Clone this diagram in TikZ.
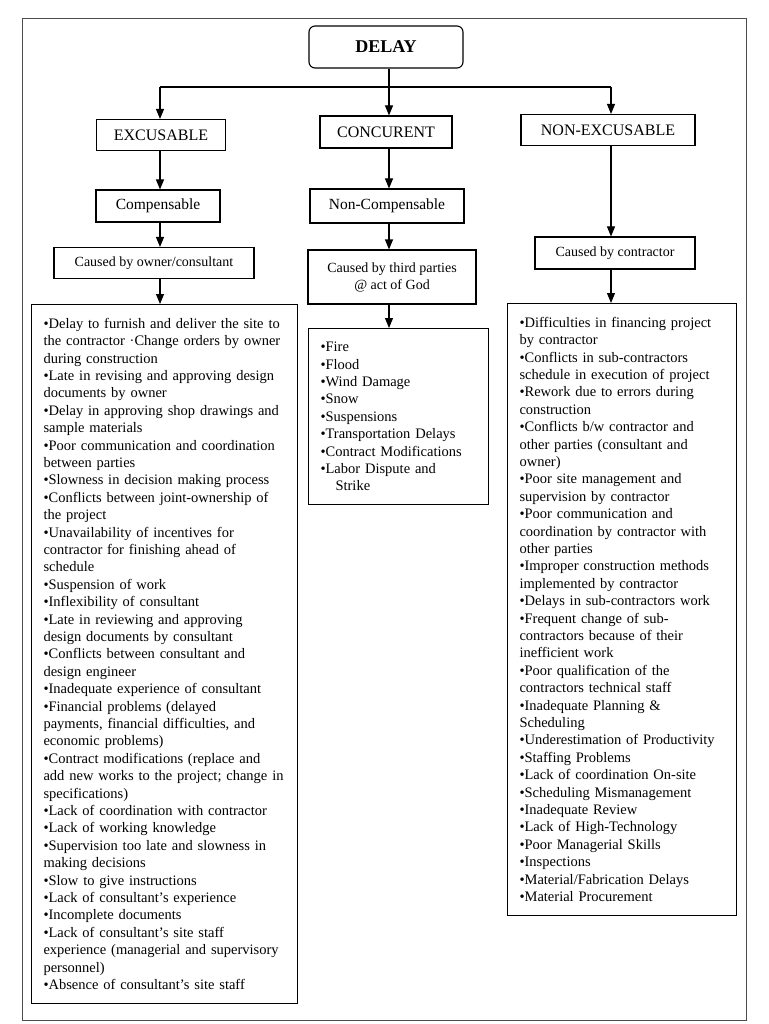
\documentclass[tikz,border=0pt]{standalone}
\usepackage{fontspec}
\setmainfont{Liberation Serif}
\usetikzlibrary{arrows.meta,positioning}

\begin{document}
\begin{tikzpicture}[x=1pt,y=-1pt,
	box/.style={draw,line width=1.1pt,inner sep=0pt,align=center},
	head/.style={box,font=\fontsize{16}{19}\selectfont},
	sub/.style={box,font=\fontsize{15.5}{18}\selectfont},
	cause/.style={box,font=\fontsize{14}{17}\selectfont},
	list/.style={draw,line width=1.1pt,anchor=north west,align=left,inner xsep=12pt,inner ysep=13.5pt,font=\fontsize{14.5}{17.4}\selectfont},
	arr/.style={line width=1.1pt,-{Triangle[width=8pt,length=10pt]}}]
	\useasboundingbox (0,0) rectangle (768,1024);
	\draw[line width=0.8pt,black!70] (22,18) rectangle (746,1020);
	% top and the three kinds
	\node[box,rounded corners=6pt,minimum width=154pt,minimum height=42pt,font=\bfseries\fontsize{18}{21}\selectfont] (delay) at (386,47) {DELAY};
	\node[head,minimum width=129pt,minimum height=31pt] (exc) at (161,135) {EXCUSABLE};
	\node[head,minimum width=132pt,minimum height=32pt] (conc) at (386,132) {CONCURENT};
	\node[head,minimum width=174pt,minimum height=31pt] (nonexc) at (608,130) {NON-EXCUSABLE};
	\node[sub,minimum width=124pt,minimum height=32pt] (comp) at (158,206) {Compensable};
	\node[sub,minimum width=154pt,minimum height=34pt] (noncomp) at (387,206) {Non-Compensable};
	\node[cause,minimum width=200pt,minimum height=31pt] (owner) at (154,263) {Caused by owner/consultant};
	\node[cause,minimum width=168pt,minimum height=54pt] (third) at (392,277) {Caused by third parties\\@ act of God};
	\node[cause,minimum width=160pt,minimum height=32pt] (contr) at (615,253) {Caused by contractor};
	% lists
	\node[list,text width=242pt] (listL) at (31,304) {•Delay to furnish and deliver the site to\\
		the contractor ·Change orders by owner\\
		during construction\\
		•Late in revising and approving design\\
		documents by owner\\
		•Delay in approving shop drawings and\\
		sample materials\\
		•Poor communication and coordination\\
		between parties\\
		•Slowness in decision making process\\
		•Conflicts between joint-ownership of\\
		the project\\
		•Unavailability of incentives for\\
		contractor for finishing ahead of\\
		schedule\\
		•Suspension of work\\
		•Inflexibility of consultant\\
		•Late in reviewing and approving\\
		design documents by consultant\\
		•Conflicts between consultant and\\
		design engineer\\
		•Inadequate experience of consultant\\
		•Financial problems (delayed\\
		payments, financial difficulties, and\\
		economic problems)\\
		•Contract modifications (replace and\\
		add new works to the project; change in\\
		specifications)\\
		•Lack of coordination with contractor\\
		•Lack of working knowledge\\
		•Supervision too late and slowness in\\
		making decisions\\
		•Slow to give instructions\\
		•Lack of consultant’s experience\\
		•Incomplete documents\\
		•Lack of consultant’s site staff\\
		experience (managerial and supervisory\\
		personnel)\\
		•Absence of consultant’s site staff};
	\node[list,text width=156pt] (listM) at (308,328) {•Fire\\
		•Flood\\
		•Wind Damage\\
		•Snow\\
		•Suspensions\\
		•Transportation Delays\\
		•Contract Modifications\\
		•Labor Dispute and\\
		\hspace*{15pt}Strike};
	\node[list,text width=205pt] (listR) at (507,303) {•Difficulties in financing project\\
		by contractor\\
		•Conflicts in sub-contractors\\
		schedule in execution of project\\
		•Rework due to errors during\\
		construction\\
		•Conflicts b/w contractor and\\
		other parties (consultant and\\
		owner)\\
		•Poor site management and\\
		supervision by contractor\\
		•Poor communication and\\
		coordination by contractor with\\
		other parties\\
		•Improper construction methods\\
		implemented by contractor\\
		•Delays in sub-contractors work\\
		•Frequent change of sub-\\
		contractors because of their\\
		inefficient work\\
		•Poor qualification of the\\
		contractors technical staff\\
		•Inadequate Planning \&\\
		Scheduling\\
		•Underestimation of Productivity\\
		•Staffing Problems\\
		•Lack of coordination On-site\\
		•Scheduling Mismanagement\\
		•Inadequate Review\\
		•Lack of High-Technology\\
		•Poor Managerial Skills\\
		•Inspections\\
		•Material/Fabrication Delays\\
		•Material Procurement};
	% connectors
	\coordinate (colL) at (160,87);
	\coordinate (colM) at (389,87);
	\coordinate (colR) at (611,87);
	\draw[line width=1.1pt] (delay.south -| colM) -- (colM);
	\draw[line width=1.1pt] (colL) -- (colR);
	\draw[arr] (colL) -- (exc.north -| colL);
	\draw[arr] (colM) -- (conc.north -| colM);
	\draw[arr] (colR) -- (nonexc.north -| colR);
	\draw[arr] (exc.south -| colL) -- (comp.north -| colL);
	\draw[arr] (comp.south -| colL) -- (owner.north -| colL);
	\draw[arr] (owner.south -| colL) -- (listL.north -| colL);
	\draw[arr] (conc.south -| colM) -- (noncomp.north -| colM);
	\draw[arr] (noncomp.south -| colM) -- (third.north -| colM);
	\draw[arr] (third.south -| colM) -- (listM.north -| colM);
	\draw[arr] (nonexc.south -| colR) -- (contr.north -| colR);
	\draw[arr] (contr.south -| colR) -- (listR.north -| colR);
\end{tikzpicture}
\end{document}
